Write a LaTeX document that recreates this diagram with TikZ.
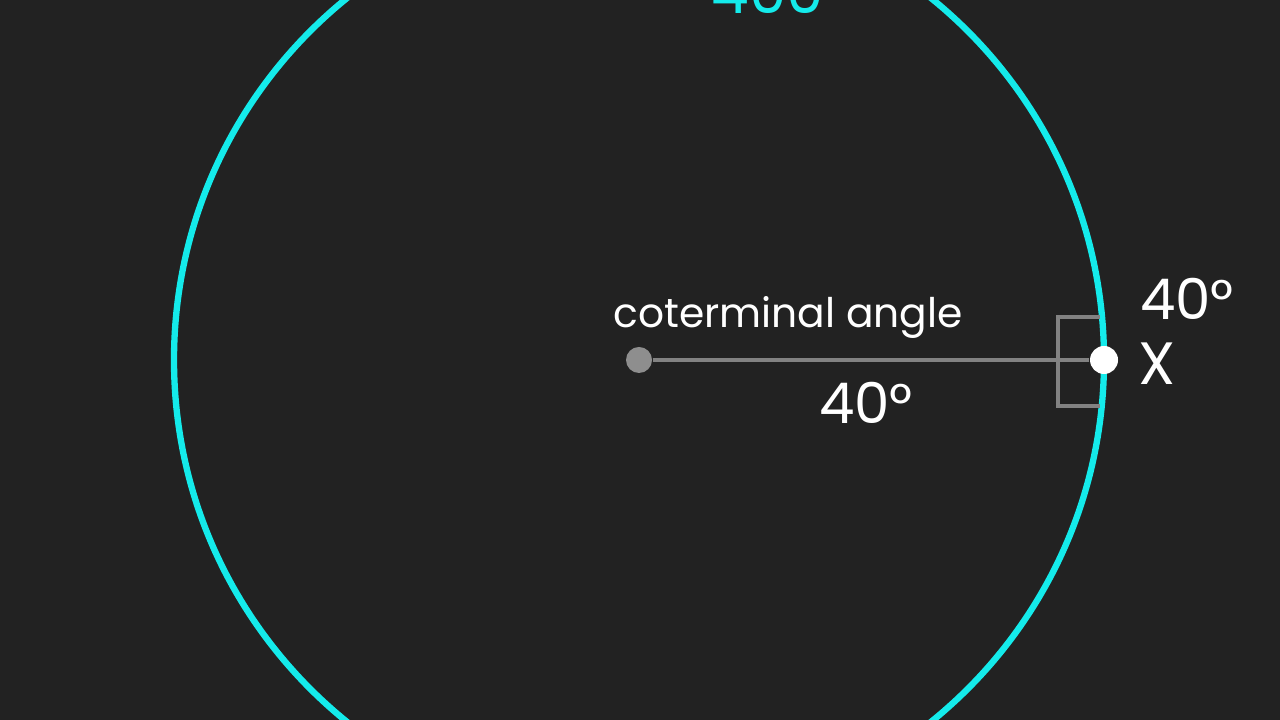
\documentclass[tikz,border=0pt]{standalone}
\usepackage{fontspec}
\setmainfont{Poppins}
\definecolor{bgdark}{RGB}{34,34,34}
\definecolor{ringcyan}{RGB}{20,235,235}
\definecolor{rodgray}{RGB}{130,130,130}
\tikzset{
  labeltext/.style={text=white, inner sep=0pt, anchor=base},
  dot/.style={circle, inner sep=0pt, minimum size=#1},
}
\begin{document}
\begin{tikzpicture}
    \useasboundingbox (0,0) rectangle (12.8cm,7.2cm);
    \clip (0,0) rectangle (12.8cm,7.2cm);
		\fill[bgdark] (0,0) rectangle (12.8cm,7.2cm);
		\draw[line width=1.8pt, ringcyan] (6.39cm,3.6cm) circle (4.65cm);
    \node[text=ringcyan, inner sep=0pt, anchor=base, font=\fontsize{17}{20}\selectfont] (turn) at (7.68cm, 7.06cm) {400};
    % radius to the point on the ring
    \node[dot=0.26cm, fill=rodgray!90] (centre) at (6.39cm, 3.6cm) {};
    \node[dot=0.28cm, fill=white] (ptx) at (11.04cm, 3.6cm) {};
		\draw[line width=1.1pt, rodgray] (centre) -- (ptx);
		\draw[line width=0.9pt, rodgray] (11.0cm,4.03cm) -- (10.58cm,4.03cm) -- (10.58cm,3.14cm) -- (11.0cm,3.14cm);
    \node[labeltext, font=\fontsize{11.6}{14}\selectfont] (coterm) at (7.88cm, 3.92cm) {coterminal angle};
    \node[labeltext, font=\fontsize{16}{20}\selectfont] (lowdeg) at (8.66cm, 2.96cm) {40°};
    \node[labeltext, font=\fontsize{16}{20}\selectfont] (highdeg) at (11.87cm, 4.0cm) {40°};
    \node[labeltext, font=\fontsize{17}{20}\selectfont] (xlabel) at (11.57cm, 3.35cm) {X};
\end{tikzpicture}
\end{document}
